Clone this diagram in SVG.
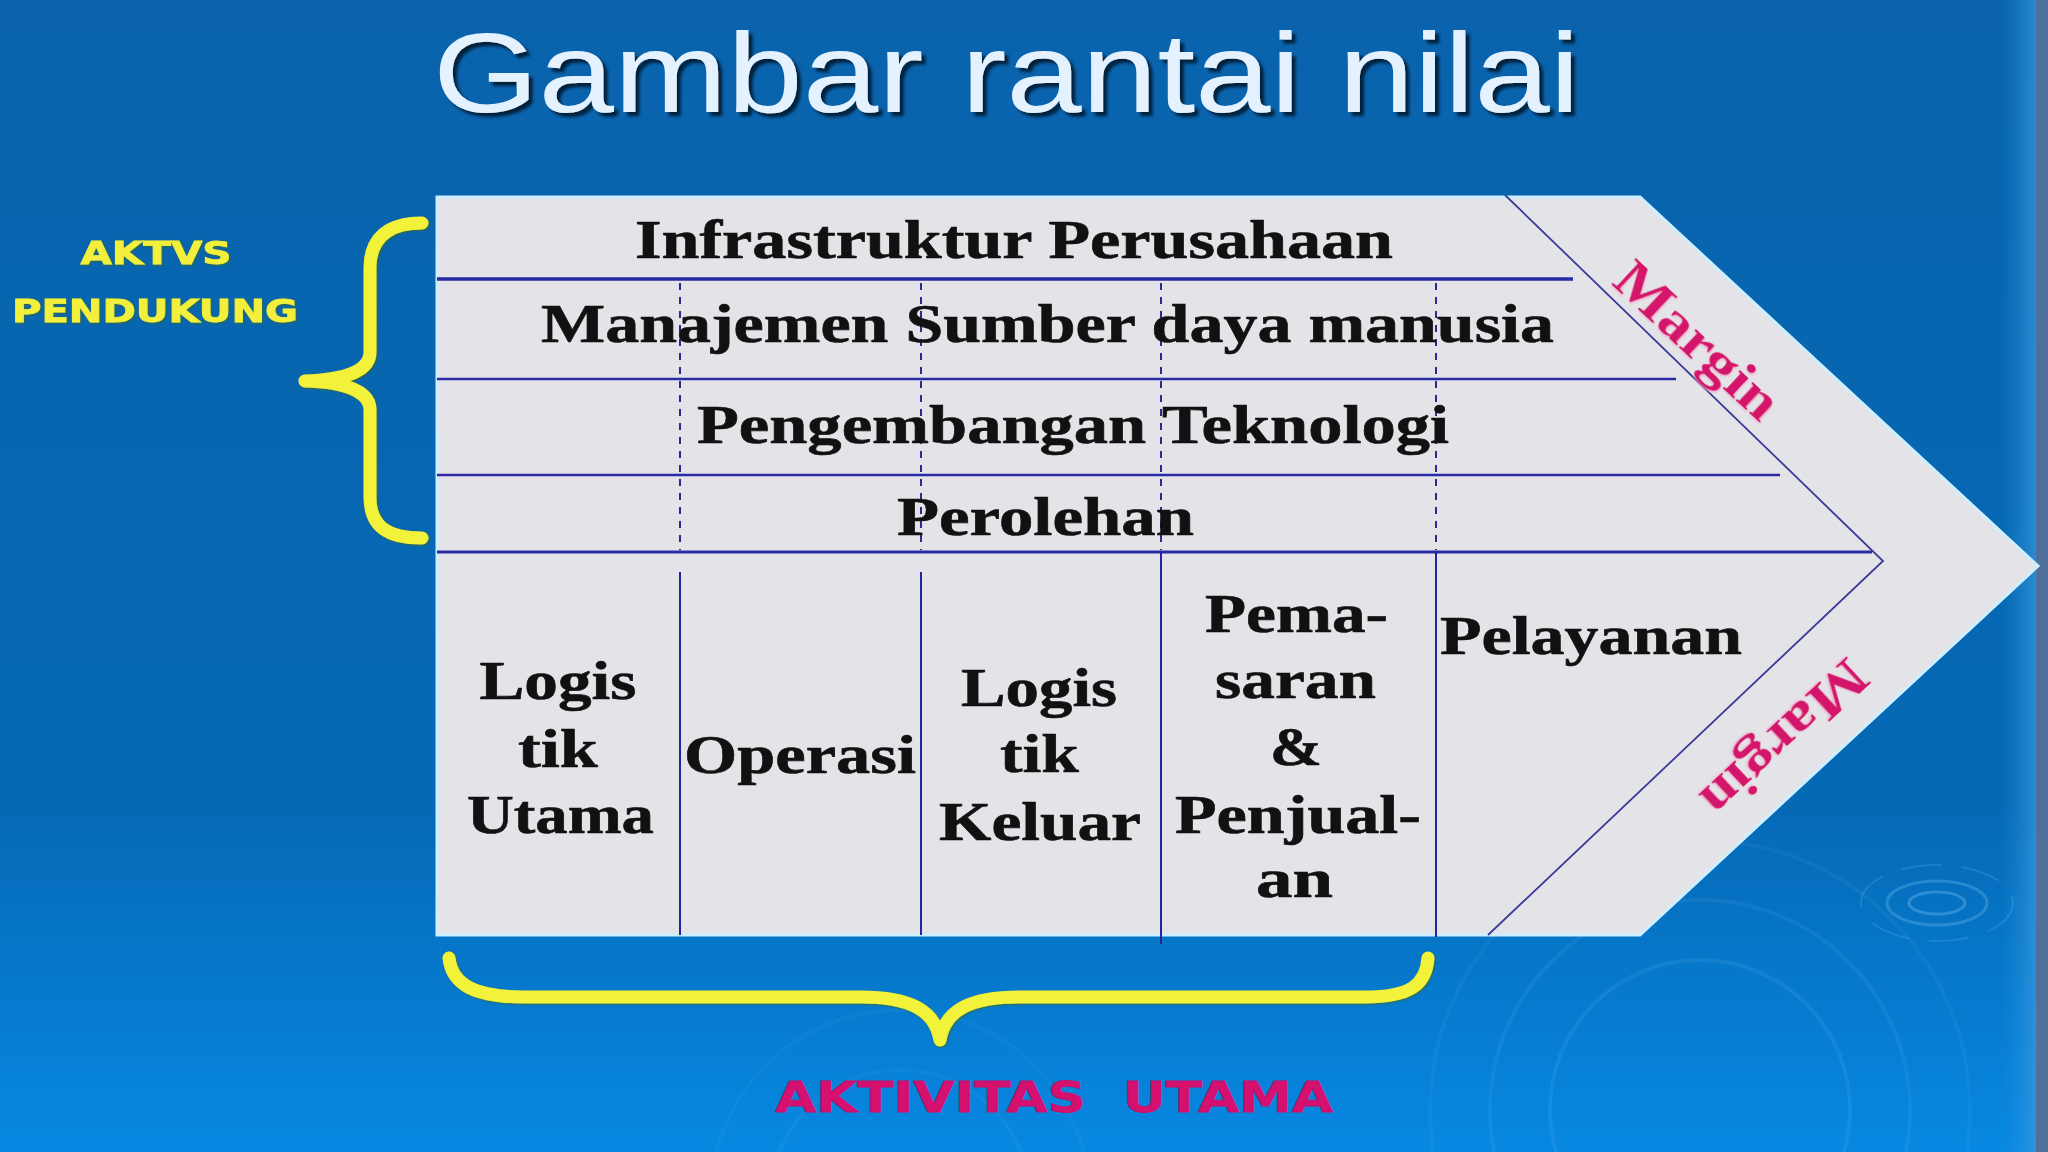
<svg xmlns="http://www.w3.org/2000/svg" width="2048" height="1152" viewBox="0 0 2048 1152">
  <defs>
    <linearGradient id="bg" x1="0" y1="0" x2="0" y2="1">
      <stop offset="0" stop-color="#0A63AC"/>
      <stop offset="0.7" stop-color="#0569B5"/>
      <stop offset="1" stop-color="#0788E2"/>
    </linearGradient>
    <linearGradient id="edge" x1="0" y1="0" x2="1" y2="0">
      <stop offset="0" stop-color="#1A8AD8" stop-opacity="0"/>
      <stop offset="1" stop-color="#3C9BE0" stop-opacity="0.7"/>
    </linearGradient>
    <filter id="shadow" x="-5%" y="-20%" width="110%" height="140%">
      <feDropShadow dx="4" dy="4" stdDeviation="1.5" flood-color="#041A36" flood-opacity="0.95"/>
    </filter>
    <filter id="glow" x="-10%" y="-30%" width="120%" height="160%">
      <feDropShadow dx="1" dy="1" stdDeviation="1" flood-color="#3A6A20" flood-opacity="0.8"/>
    </filter>
    <filter id="pinkglow" x="-10%" y="-30%" width="120%" height="160%">
      <feDropShadow dx="1" dy="1" stdDeviation="1.2" flood-color="#F6A0C8" flood-opacity="0.9"/>
    </filter>
  </defs>
  <style>
    .t { font-family: "Liberation Serif", "Times New Roman", serif; font-weight: bold; font-size: 54px; fill: #111111; text-anchor: middle; stroke: #111111; stroke-width: 0.6px; }
    .hl { stroke: #2A2AA6; fill: none; }
    .dash { stroke: #2A2A8E; stroke-width: 2; stroke-dasharray: 7 7; fill: none; }
    .vl { stroke: #2424A0; stroke-width: 2; fill: none; }
    .brace { stroke: #F2F23A; stroke-width: 13; fill: none; stroke-linecap: round; stroke-linejoin: round; }
    .yl { font-family: "DejaVu Sans", "Liberation Sans", sans-serif; font-weight: bold; font-size: 32px; fill: #F2F03C; text-anchor: middle; stroke: #F2F03C; stroke-width: 0.8px; }
    .margin { font-family: "Liberation Serif", "Times New Roman", serif; font-weight: bold; font-size: 54px; fill: #D3146C; text-anchor: middle; }
    .ripple { fill: none; stroke: #7CC4F4; }
  </style>

  <!-- background -->
  <rect x="0" y="0" width="2048" height="1152" fill="url(#bg)"/>
  <rect x="2000" y="0" width="36" height="1152" fill="url(#edge)"/>
  <rect x="2036" y="0" width="12" height="1152" fill="#50709C"/>
  <g id="ripples">
    <ellipse class="ripple" cx="1937" cy="903" rx="28" ry="11" stroke-width="3" opacity="0.35"/>
    <ellipse class="ripple" cx="1937" cy="903" rx="50" ry="22" stroke-width="3" opacity="0.3"/>
    <ellipse class="ripple" cx="1937" cy="903" rx="76" ry="38" stroke-width="2" opacity="0.2" stroke-dasharray="40 20"/>
    <circle class="ripple" cx="1700" cy="1110" r="150" stroke-width="4" opacity="0.12"/>
    <circle class="ripple" cx="1700" cy="1110" r="210" stroke-width="4" opacity="0.1"/>
    <circle class="ripple" cx="1700" cy="1110" r="270" stroke-width="4" opacity="0.08"/>
    <circle class="ripple" cx="900" cy="1200" r="130" stroke-width="4" opacity="0.07"/>
    <circle class="ripple" cx="900" cy="1200" r="190" stroke-width="4" opacity="0.06"/>
  </g>

  <!-- title -->
  <g id="title">
    <text x="433" y="112" font-family="'Liberation Sans', Arial, sans-serif" font-size="113" fill="#E4F2FF" textLength="1147" lengthAdjust="spacingAndGlyphs" filter="url(#shadow)">Gambar rantai nilai</text>
  </g>

  <!-- value chain shape -->
  <g id="value-chain-shape">
    <path d="M437,197 L1640,197 L2038,566 L1640,935 L437,935 Z" fill="#E4E4E8" stroke="#CDEFFF" stroke-width="3"/>
  </g>

  <!-- grid lines / connectors -->
  <g id="connectors">
    <path d="M1505,195 L1883,561 L1488,935" stroke="#3A3A9A" stroke-width="1.8" fill="none"/>
    <line class="hl" x1="437" y1="279" x2="1573" y2="279" stroke-width="3.5"/>
    <line class="hl" x1="437" y1="379" x2="1676" y2="379" stroke-width="2.5"/>
    <line class="hl" x1="437" y1="475" x2="1780" y2="475" stroke-width="2.5"/>
    <line class="hl" x1="437" y1="552" x2="1872" y2="552" stroke-width="3"/>
    <line class="dash" x1="680" y1="283" x2="680" y2="550"/>
    <line class="dash" x1="921" y1="283" x2="921" y2="550"/>
    <line class="dash" x1="1161" y1="283" x2="1161" y2="550"/>
    <line class="dash" x1="1436" y1="283" x2="1436" y2="550"/>
    <line class="vl" x1="680" y1="572" x2="680" y2="935"/>
    <line class="vl" x1="921" y1="572" x2="921" y2="935"/>
    <line class="vl" x1="1161" y1="552" x2="1161" y2="944"/>
    <line class="vl" x1="1436" y1="552" x2="1436" y2="937"/>
  </g>

  <!-- support activities -->
  <g id="infrastruktur">
    <text class="t" x="1014" y="258" textLength="758" lengthAdjust="spacingAndGlyphs">Infrastruktur Perusahaan</text>
  </g>
  <g id="sdm">
    <text class="t" x="1047.5" y="342" textLength="1013" lengthAdjust="spacingAndGlyphs">Manajemen Sumber daya manusia</text>
  </g>
  <g id="teknologi">
    <text class="t" x="1073" y="443" textLength="752" lengthAdjust="spacingAndGlyphs">Pengembangan Teknologi</text>
  </g>
  <g id="perolehan">
    <text class="t" x="1045.5" y="535" textLength="297" lengthAdjust="spacingAndGlyphs">Perolehan</text>
  </g>

  <!-- primary activities -->
  <g id="logistik-utama">
    <text class="t" x="558" y="699" textLength="157" lengthAdjust="spacingAndGlyphs">Logis</text>
    <text class="t" x="558" y="767" textLength="80" lengthAdjust="spacingAndGlyphs">tik</text>
    <text class="t" x="560.5" y="833" textLength="187" lengthAdjust="spacingAndGlyphs">Utama</text>
  </g>
  <g id="operasi">
    <text class="t" x="800" y="773" textLength="232" lengthAdjust="spacingAndGlyphs">Operasi</text>
  </g>
  <g id="logistik-keluar">
    <text class="t" x="1039" y="706" textLength="156" lengthAdjust="spacingAndGlyphs">Logis</text>
    <text class="t" x="1039.5" y="772" textLength="79" lengthAdjust="spacingAndGlyphs">tik</text>
    <text class="t" x="1040" y="840" textLength="202" lengthAdjust="spacingAndGlyphs">Keluar</text>
  </g>
  <g id="pemasaran">
    <text class="t" x="1296.5" y="632" textLength="183" lengthAdjust="spacingAndGlyphs">Pema-</text>
    <text class="t" x="1295.5" y="698" textLength="161" lengthAdjust="spacingAndGlyphs">saran</text>
    <text class="t" x="1296" y="765" textLength="52" lengthAdjust="spacingAndGlyphs">&amp;</text>
    <text class="t" x="1298" y="833" textLength="246" lengthAdjust="spacingAndGlyphs">Penjual-</text>
    <text class="t" x="1294.5" y="897" textLength="77" lengthAdjust="spacingAndGlyphs">an</text>
  </g>
  <g id="pelayanan">
    <text class="t" x="1440" y="654" text-anchor="start" style="text-anchor:start" textLength="302" lengthAdjust="spacingAndGlyphs">Pelayanan</text>
  </g>

  <!-- margins -->
  <g id="margin-top">
    <text class="margin" transform="translate(1697,341) rotate(43)" x="0" y="17" textLength="205" lengthAdjust="spacingAndGlyphs" filter="url(#pinkglow)">Margin</text>
  </g>
  <g id="margin-bottom">
    <text class="margin" transform="translate(1784,738) rotate(137)" x="0" y="17" textLength="205" lengthAdjust="spacingAndGlyphs" filter="url(#pinkglow)">Margin</text>
  </g>

  <!-- support brace -->
  <g id="aktivitas-pendukung">
    <path class="brace" filter="url(#glow)" d="M422,223 C388,223 370,238 370,268 L370,352 C370,372 342,380 305,381 C342,382 370,390 370,410 L370,497 C370,527 388,538 422,538"/>
    <text class="yl" x="156" y="264" textLength="151" lengthAdjust="spacingAndGlyphs" filter="url(#glow)">AKTVS</text>
    <text class="yl" x="155" y="322" textLength="286" lengthAdjust="spacingAndGlyphs" filter="url(#glow)">PENDUKUNG</text>
  </g>

  <!-- primary brace -->
  <g id="aktivitas-utama">
    <path class="brace" filter="url(#glow)" d="M449,958 C452,985 475,997 525,997 L860,997 C910,997 935,1010 940,1040 C945,1010 970,997 1020,997 L1365,997 C1410,997 1426,985 1428,958"/>
    <text x="775" y="1112" xml:space="preserve" font-family="'DejaVu Sans', 'Liberation Sans', sans-serif" font-weight="bold" font-size="42" fill="#D5106E" stroke="#C01070" stroke-width="0.8" textLength="558" lengthAdjust="spacingAndGlyphs">AKTIVITAS  UTAMA</text>
  </g>
</svg>
